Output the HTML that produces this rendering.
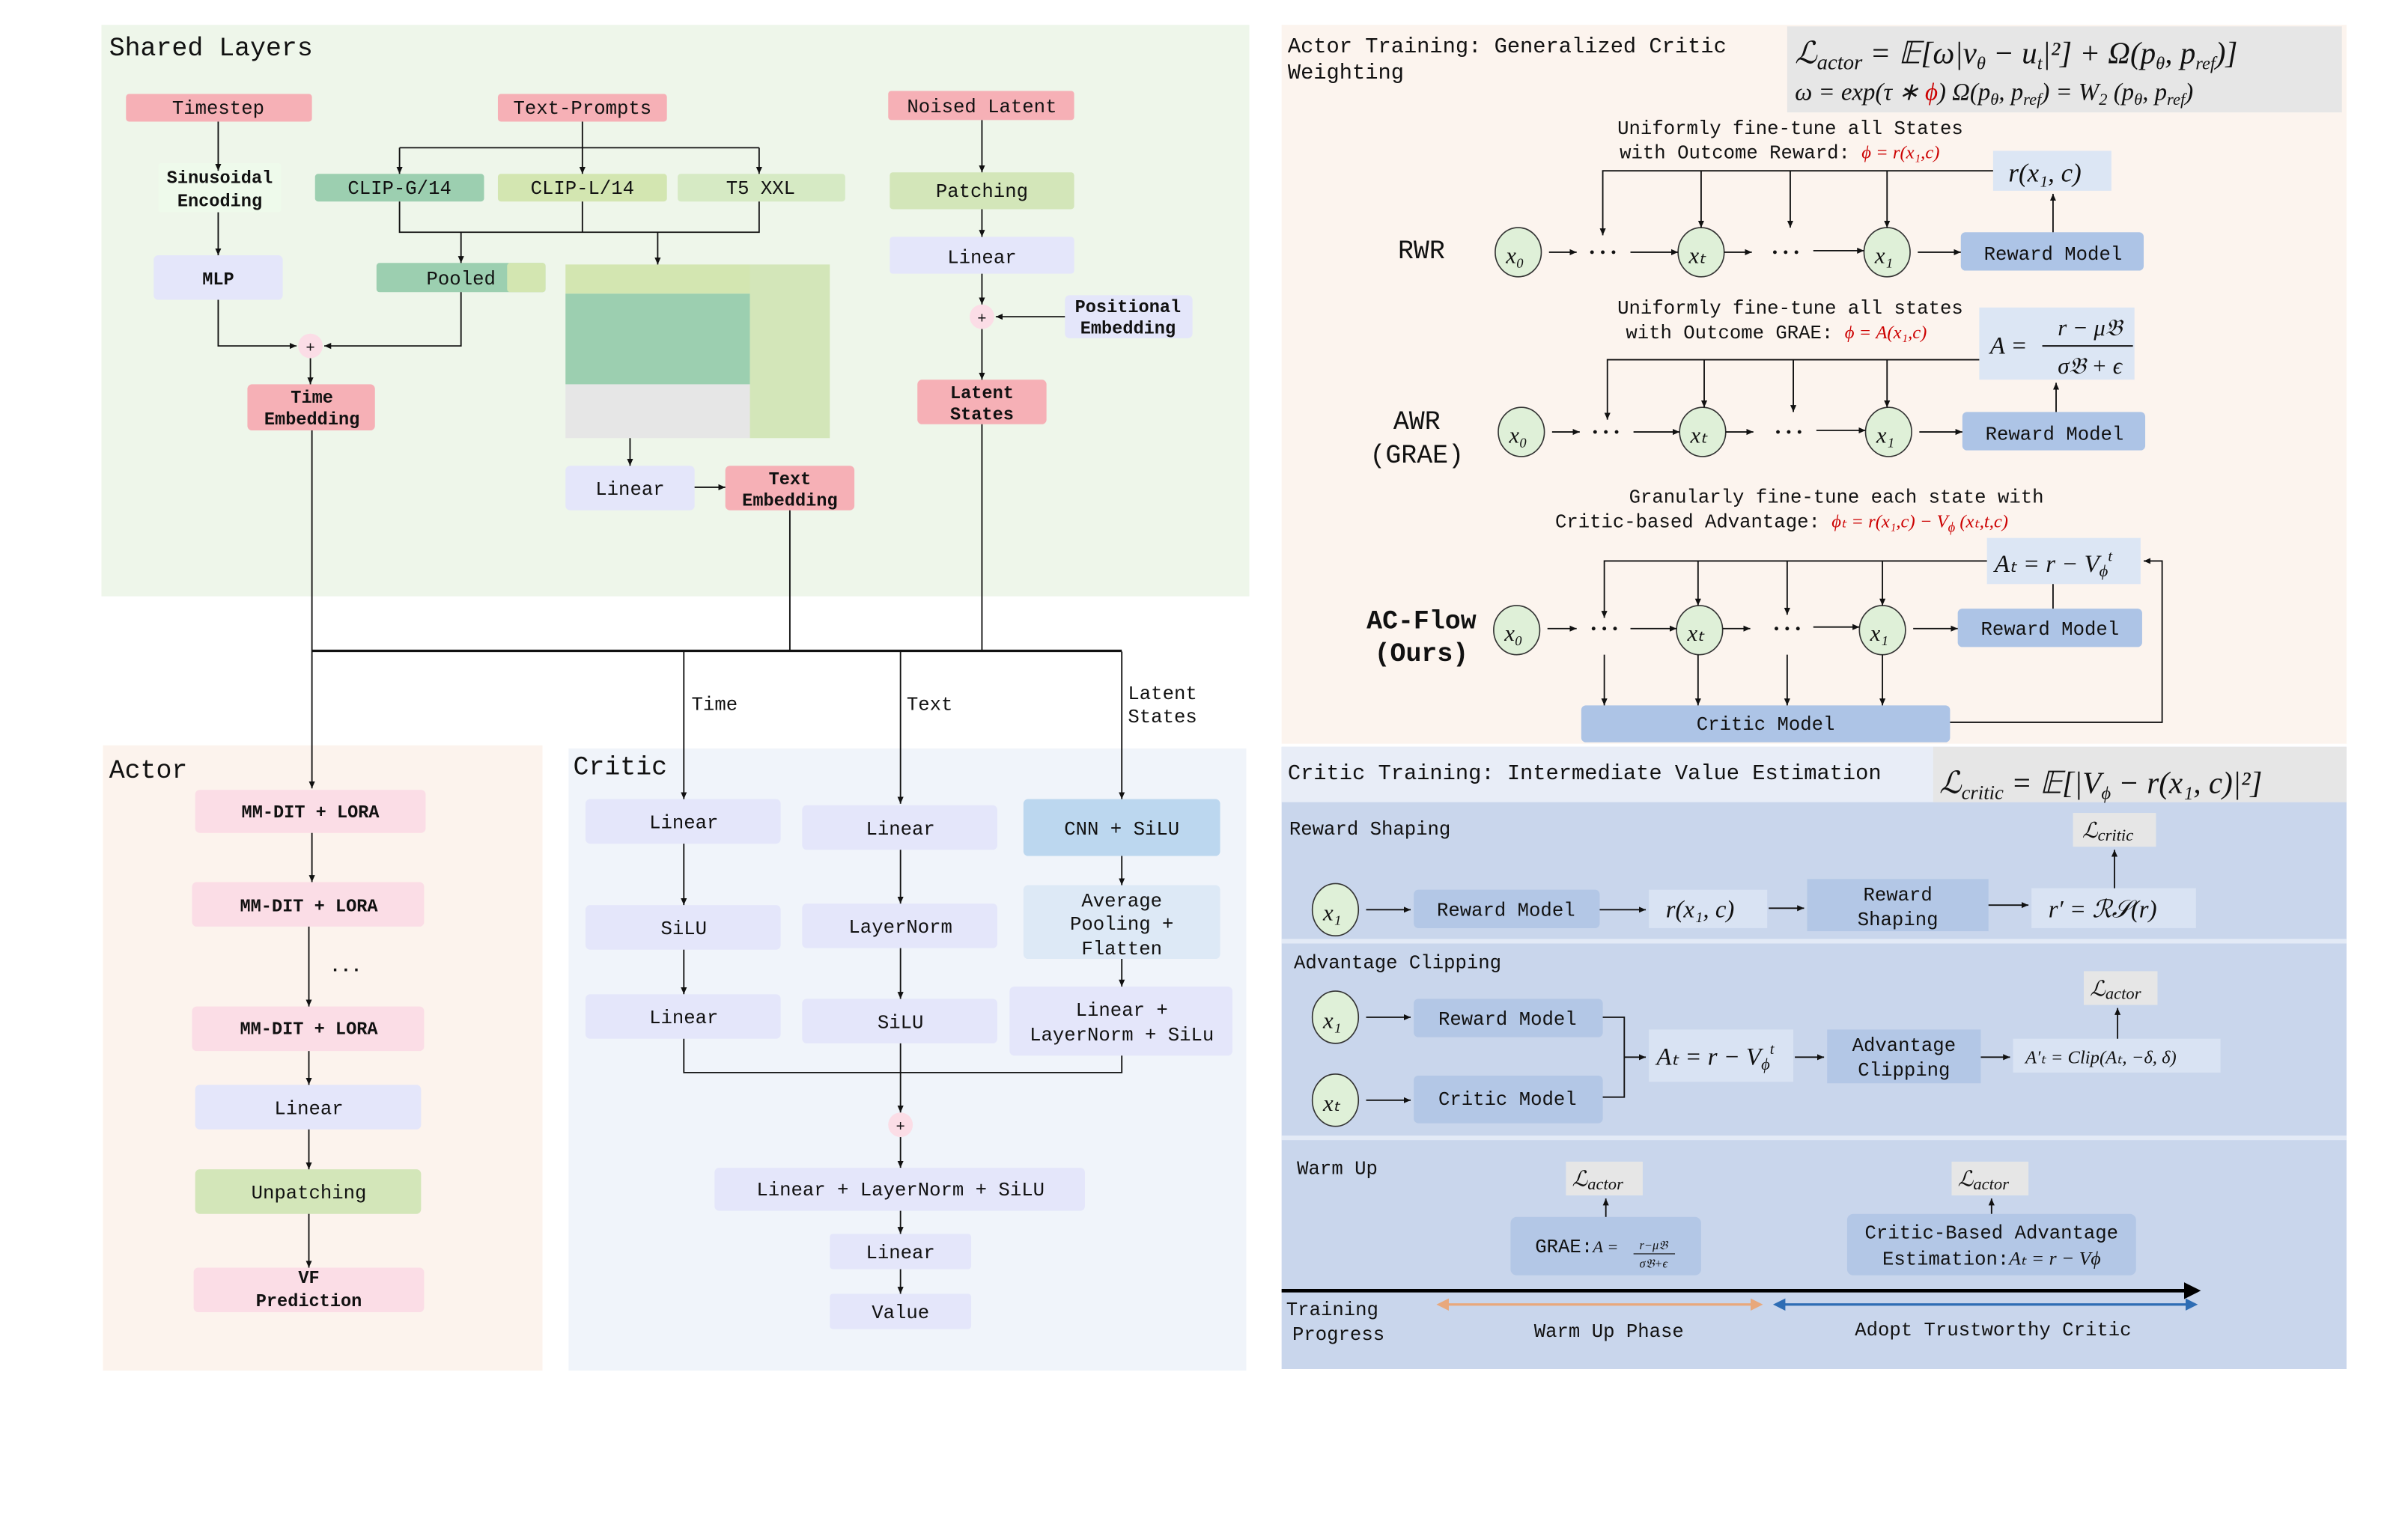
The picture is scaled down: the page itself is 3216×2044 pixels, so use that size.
<!DOCTYPE html>
<html><head><meta charset="utf-8"><style>
html,body{margin:0;padding:0;background:#fff}
svg{display:block}
text{font-family:"Liberation Mono",monospace;fill:#111}
.m{font-family:"Liberation Serif",serif;font-style:italic}
.b{font-weight:bold;font-size:11.5px}
.t{font-size:17px}
</style></head><body>
<svg width="3216" height="2044" viewBox="0 0 1567 995.6" font-size="12.5" xmlns="http://www.w3.org/2000/svg">
<defs><marker id="a" markerWidth="6" markerHeight="6" refX="5" refY="3" orient="auto"><path d="M0,0.8 L5,3 L0,5.2z" fill="#111"/></marker>
<marker id="ao" markerWidth="6" markerHeight="6" refX="3" refY="3" orient="auto-start-reverse"><path d="M0,0.5 L5,3 L0,5.5z" fill="#e8a87c"/></marker>
<marker id="ab" markerWidth="6" markerHeight="6" refX="3" refY="3" orient="auto-start-reverse"><path d="M0,0.5 L5,3 L0,5.5z" fill="#2e6db4"/></marker>
<marker id="ak" markerWidth="5" markerHeight="5" refX="4" refY="2.5" orient="auto"><path d="M0,0 L5,2.5 L0,5z" fill="#000"/></marker></defs>
<g stroke-width="1" fill="none">
<rect x="66" y="16" width="747" height="372" fill="#eef6ea"/>
<rect x="67" y="485" width="286" height="407" fill="#fcf3ed"/>
<rect x="370" y="487" width="441" height="405" fill="#f0f4fa"/>
<rect x="834" y="16" width="693" height="468" fill="#fcf4ee"/>
<rect x="834" y="486" width="693" height="405" fill="#c9d6ec"/>
<rect x="834" y="486" width="693" height="36" fill="#e8edf7"/>
<rect x="1258" y="486" width="269" height="36" fill="#e6e6e6"/>
<rect x="834" y="611" width="693" height="3" fill="#e3eaf6"/>
<rect x="834" y="739" width="693" height="3" fill="#e3eaf6"/>
<rect x="1163" y="17" width="361" height="56" fill="#e6e6e6"/>
</g>
<g stroke="none">
<rect x="82" y="61" width="121" height="18" rx="2" fill="#f6b0b6"/>
<rect x="324" y="61" width="110" height="18" rx="2" fill="#f6b0b6"/>
<rect x="578" y="59" width="121" height="19" rx="2" fill="#f6b0b6"/>
<rect x="103" y="106" width="80" height="32" rx="2" fill="#eefaeb"/>
<rect x="205" y="113" width="110" height="18" rx="2" fill="#9ccfb0"/>
<rect x="324" y="113" width="110" height="18" rx="2" fill="#d3e6b1"/>
<rect x="441" y="113" width="109" height="18" rx="2" fill="#d6eac4"/>
<rect x="579" y="112" width="120" height="24" rx="2" fill="#d3e6b9"/>
<rect x="579" y="154" width="120" height="24" rx="2" fill="#e4e6fa"/>
<rect x="100" y="166" width="84" height="29" rx="3" fill="#e4e6fa"/>
<rect x="245" y="171" width="110" height="19" rx="2" fill="#9ccfb0"/>
<rect x="330" y="171" width="25" height="19" rx="2" fill="#d3e6b1"/>
<rect x="368" y="172" width="120" height="19" fill="#d3e6b1"/>
<rect x="368" y="191" width="120" height="59" fill="#9ccfb0"/>
<rect x="368" y="250" width="120" height="35" fill="#e6e6e6"/>
<rect x="488" y="172" width="52" height="113" fill="#d3e6b9"/>
<circle cx="202" cy="225" r="8" fill="#fbdde6"/>
<circle cx="639" cy="206" r="8" fill="#fbdde6"/>
<rect x="693" y="192" width="83" height="28" rx="3" fill="#e4e6fa"/>
<rect x="161" y="250" width="83" height="30" rx="3" fill="#f6b0b6"/>
<rect x="597" y="247" width="84" height="29" rx="3" fill="#f6b0b6"/>
<rect x="368" y="303" width="84" height="29" rx="3" fill="#e4e6fa"/>
<rect x="472" y="303" width="84" height="29" rx="3" fill="#f6b0b6"/>
<rect x="127" y="514" width="150" height="28" rx="3" fill="#fbdde6"/>
<rect x="125" y="574" width="151" height="29" rx="3" fill="#fbdde6"/>
<rect x="125" y="655" width="151" height="29" rx="3" fill="#fbdde6"/>
<rect x="127" y="706" width="147" height="29" rx="3" fill="#e4e6fa"/>
<rect x="127" y="761" width="147" height="29" rx="3" fill="#d3e6b9"/>
<rect x="126" y="825" width="150" height="29" rx="3" fill="#fbdde6"/>
<rect x="381" y="520" width="127" height="29" rx="3" fill="#e4e6fa"/>
<rect x="381" y="589" width="127" height="29" rx="3" fill="#e4e6fa"/>
<rect x="381" y="647" width="127" height="29" rx="3" fill="#e4e6fa"/>
<rect x="522" y="524" width="127" height="29" rx="3" fill="#e4e6fa"/>
<rect x="522" y="588" width="127" height="29" rx="3" fill="#e4e6fa"/>
<rect x="522" y="650" width="127" height="29" rx="3" fill="#e4e6fa"/>
<rect x="666" y="520" width="128" height="37" rx="3" fill="#bcd7ef"/>
<rect x="666" y="576" width="128" height="48" rx="3" fill="#dde9f6"/>
<rect x="657" y="642" width="145" height="45" rx="3" fill="#e4e6fa"/>
<circle cx="586" cy="732" r="8" fill="#fbdde6"/>
<rect x="465" y="760" width="241" height="28" rx="3" fill="#e4e6fa"/>
<rect x="540" y="803" width="92" height="23" rx="2" fill="#e4e6fa"/>
<rect x="540" y="842" width="92" height="23" rx="2" fill="#e4e6fa"/>
<rect x="1297" y="98" width="77" height="26" fill="#dce6f4"/>
<rect x="1276" y="151" width="119" height="25" rx="3" fill="#adc4e6"/>
<rect x="1288" y="200" width="101" height="47" fill="#dce6f4"/>
<rect x="1277" y="268" width="119" height="25" rx="3" fill="#adc4e6"/>
<rect x="1293" y="350" width="100" height="30" fill="#dce6f4"/>
<rect x="1274" y="396" width="120" height="25" rx="3" fill="#adc4e6"/>
<rect x="1029" y="459" width="240" height="24" rx="3" fill="#adc4e6"/>
<rect x="920" y="579" width="121" height="25" rx="3" fill="#b3c7e6"/>
<rect x="1073" y="579" width="77" height="25" fill="#d9e3f3"/>
<rect x="1176" y="572" width="118" height="34" fill="#b3c7e6"/>
<rect x="1322" y="578" width="107" height="26" fill="#d9e3f3"/>
<rect x="1349" y="529" width="54" height="22" fill="#e6e6e6"/>
<rect x="920" y="650" width="123" height="25" rx="3" fill="#b3c7e6"/>
<rect x="920" y="700" width="123" height="31" rx="3" fill="#b3c7e6"/>
<rect x="1073" y="670" width="94" height="34" fill="#d9e3f3"/>
<rect x="1189" y="670" width="100" height="35" fill="#b3c7e6"/>
<rect x="1310" y="676" width="135" height="22" fill="#d9e3f3"/>
<rect x="1356" y="632" width="48" height="22" fill="#e6e6e6"/>
<rect x="1019" y="756" width="50" height="22" fill="#e6e6e6"/>
<rect x="1270" y="756" width="50" height="22" fill="#e6e6e6"/>
<rect x="983" y="792" width="124" height="38" rx="4" fill="#b3c7e6"/>
<rect x="1202" y="790" width="188" height="40" rx="4" fill="#b3c7e6"/>
</g>
<g fill="#dff0d8" stroke="#333" stroke-width="0.8">
<ellipse cx="988" cy="164" rx="15" ry="16"/><ellipse cx="1107" cy="164" rx="15" ry="16"/><ellipse cx="1228" cy="164" rx="15" ry="16"/>
<ellipse cx="990" cy="281" rx="15" ry="16"/><ellipse cx="1108" cy="281" rx="15" ry="16"/><ellipse cx="1229" cy="281" rx="15" ry="16"/>
<ellipse cx="987" cy="410" rx="15" ry="16"/><ellipse cx="1106" cy="410" rx="15" ry="16"/><ellipse cx="1225" cy="410" rx="15" ry="16"/>
<ellipse cx="869" cy="592" rx="15" ry="17"/><ellipse cx="869" cy="662" rx="15" ry="17"/><ellipse cx="869" cy="716" rx="15" ry="17"/>
</g>
<g stroke="#111" stroke-width="0.9" fill="none">
<path d="M142 79V111" marker-end="url(#a)"/><path d="M142 138V166" marker-end="url(#a)"/>
<path d="M379 79V113" marker-end="url(#a)"/><path d="M260 96H494"/><path d="M260 96V113" marker-end="url(#a)"/><path d="M494 96V113" marker-end="url(#a)"/>
<path d="M260 131V151H494V131M379 131V151"/><path d="M300 151V171" marker-end="url(#a)"/><path d="M428 151V172" marker-end="url(#a)"/>
<path d="M142 195V225H193" marker-end="url(#a)"/><path d="M300 190V225H211" marker-end="url(#a)"/><path d="M202 233V250" marker-end="url(#a)"/>
<path d="M639 78V112" marker-end="url(#a)"/><path d="M639 136V154" marker-end="url(#a)"/><path d="M639 178V198" marker-end="url(#a)"/><path d="M693 206H648" marker-end="url(#a)"/><path d="M639 214V247" marker-end="url(#a)"/>
<path d="M410 285V303" marker-end="url(#a)"/><path d="M452 317H472" marker-end="url(#a)"/>
<path d="M203 280V513" marker-end="url(#a)"/><path d="M514 332V423M639 276V424"/>
<path d="M203 423.5H730" stroke-width="1.6"/><path d="M445 424V520" marker-end="url(#a)"/><path d="M586 424V523" marker-end="url(#a)"/><path d="M730 424V520" marker-end="url(#a)"/>
<path d="M203 542V574" marker-end="url(#a)"/><path d="M201 603V655" marker-end="url(#a)"/><path d="M201 684V706" marker-end="url(#a)"/><path d="M201 735V761" marker-end="url(#a)"/><path d="M201 790V825" marker-end="url(#a)"/>
<path d="M445 549V589" marker-end="url(#a)"/><path d="M445 618V647" marker-end="url(#a)"/><path d="M586 553V588" marker-end="url(#a)"/><path d="M586 617V650" marker-end="url(#a)"/><path d="M730 557V576" marker-end="url(#a)"/><path d="M730 624V642" marker-end="url(#a)"/>
<path d="M445 676V698H730V687M586 679V698"/><path d="M586 698V724" marker-end="url(#a)"/><path d="M586 740V760" marker-end="url(#a)"/><path d="M586 788V803" marker-end="url(#a)"/><path d="M586 826V842" marker-end="url(#a)"/>
<path d="M1297 111H1043V153" marker-end="url(#a)"/><path d="M1107 111V148" marker-end="url(#a)"/><path d="M1165 111V148" marker-end="url(#a)"/><path d="M1228 111V148" marker-end="url(#a)"/>
<path d="M1008 164H1026" marker-end="url(#a)"/><path d="M1061 164H1092" marker-end="url(#a)"/><path d="M1122 164H1140" marker-end="url(#a)"/><path d="M1180 163H1213" marker-end="url(#a)"/><path d="M1248 164H1276" marker-end="url(#a)"/><path d="M1336 151V126" marker-end="url(#a)"/>
<path d="M1288 234H1046V273" marker-end="url(#a)"/><path d="M1109 234V265" marker-end="url(#a)"/><path d="M1167 234V268" marker-end="url(#a)"/><path d="M1228 234V265" marker-end="url(#a)"/>
<path d="M1010 281H1028" marker-end="url(#a)"/><path d="M1063 281H1093" marker-end="url(#a)"/><path d="M1123 281H1141" marker-end="url(#a)"/><path d="M1182 280H1214" marker-end="url(#a)"/><path d="M1249 281H1277" marker-end="url(#a)"/><path d="M1338 268V249" marker-end="url(#a)"/>
<path d="M1293 365H1044V402" marker-end="url(#a)"/><path d="M1105 365V394" marker-end="url(#a)"/><path d="M1163 365V400" marker-end="url(#a)"/><path d="M1225 365V394" marker-end="url(#a)"/><path d="M1336 380V396"/>
<path d="M1007 409H1026" marker-end="url(#a)"/><path d="M1061 409H1091" marker-end="url(#a)"/><path d="M1121 409H1139" marker-end="url(#a)"/><path d="M1180 408H1210" marker-end="url(#a)"/><path d="M1245 409H1274" marker-end="url(#a)"/>
<path d="M1044 426V459" marker-end="url(#a)"/><path d="M1105 426V459" marker-end="url(#a)"/><path d="M1163 426V459" marker-end="url(#a)"/><path d="M1225 426V459" marker-end="url(#a)"/>
<path d="M1269 470H1407V365H1395" marker-end="url(#a)"/>
<path d="M889 592H918" marker-end="url(#a)"/><path d="M1041 592H1071" marker-end="url(#a)"/><path d="M1151 591H1174" marker-end="url(#a)"/><path d="M1294 589H1320" marker-end="url(#a)"/><path d="M1376 578V553" marker-end="url(#a)"/>
<path d="M889 662H918" marker-end="url(#a)"/><path d="M889 716H918" marker-end="url(#a)"/><path d="M1043 662H1057V714H1043M1057 688H1071" marker-end="url(#a)"/><path d="M1168 688H1187" marker-end="url(#a)"/><path d="M1289 688H1308" marker-end="url(#a)"/><path d="M1378 676V656" marker-end="url(#a)"/>
<path d="M1045 792V780" marker-end="url(#a)"/><path d="M1296 790V780" marker-end="url(#a)"/>
</g>
<path d="M834 840H1430" stroke="#000" stroke-width="2.2" marker-end="url(#ak)"/>
<path d="M938 849H1144" stroke="#e8a87c" stroke-width="1.6" marker-start="url(#ao)" marker-end="url(#ao)"/>
<path d="M1157 849H1427" stroke="#2e6db4" stroke-width="1.6" marker-start="url(#ab)" marker-end="url(#ab)"/>
<g text-anchor="middle">
<text x="142" y="74">Timestep</text><text x="379" y="74">Text-Prompts</text><text x="639" y="73">Noised Latent</text>
<text x="143" y="119" class="b">Sinusoidal</text><text x="143" y="134" class="b">Encoding</text>
<text x="260" y="126">CLIP-G/14</text><text x="379" y="126">CLIP-L/14</text><text x="495" y="126">T5 XXL</text>
<text x="639" y="128">Patching</text><text x="639" y="171">Linear</text><text x="142" y="185" class="b">MLP</text><text x="300" y="185">Pooled</text>
<text x="202" y="229" font-size="10">+</text><text x="639" y="210" font-size="10">+</text>
<text x="734" y="203" class="b">Positional</text><text x="734" y="217" class="b">Embedding</text>
<text x="203" y="262" class="b">Time</text><text x="203" y="276" class="b">Embedding</text>
<text x="639" y="259" class="b">Latent</text><text x="639" y="273" class="b">States</text>
<text x="410" y="322">Linear</text><text x="514" y="315" class="b">Text</text><text x="514" y="329" class="b">Embedding</text>
<text x="202" y="532" class="b">MM-DIT + LORA</text><text x="201" y="593" class="b">MM-DIT + LORA</text><text x="225" y="632" class="b">...</text><text x="201" y="673" class="b">MM-DIT + LORA</text>
<text x="201" y="725">Linear</text><text x="201" y="780">Unpatching</text><text x="201" y="835" class="b">VF</text><text x="201" y="850" class="b">Prediction</text>
<text x="445" y="539">Linear</text><text x="445" y="608">SiLU</text><text x="445" y="666">Linear</text>
<text x="586" y="543">Linear</text><text x="586" y="607">LayerNorm</text><text x="586" y="669">SiLU</text>
<text x="730" y="543">CNN + SiLU</text><text x="730" y="590">Average</text><text x="730" y="605">Pooling +</text><text x="730" y="621">Flatten</text>
<text x="730" y="661">Linear +</text><text x="730" y="677">LayerNorm + SiLu</text>
<text x="586" y="736" font-size="10">+</text><text x="586" y="778">Linear + LayerNorm + SiLU</text><text x="586" y="819">Linear</text><text x="586" y="858">Value</text>
<text x="1165" y="87">Uniformly fine-tune all States</text>
<text x="1165" y="204">Uniformly fine-tune all states</text>
<text x="1195" y="327">Granularly fine-tune each state with</text>
<text x="1336" y="169">Reward Model</text><text x="1337" y="286">Reward Model</text><text x="1334" y="413">Reward Model</text><text x="1149" y="475">Critic Model</text>
<text x="980" y="596">Reward Model</text><text x="1235" y="586">Reward</text><text x="1235" y="602">Shaping</text>
<text x="981" y="667">Reward Model</text><text x="981" y="719">Critic Model</text><text x="1239" y="684">Advantage</text><text x="1239" y="700">Clipping</text>
<text x="1296" y="806">Critic-Based Advantage</text>
<text x="1047" y="870">Warm Up Phase</text><text x="1297" y="869">Adopt Trustworthy Critic</text>
<text x="925" y="168" class="t">RWR</text><text x="922" y="279" class="t">AWR</text><text x="922" y="301" class="t">(GRAE)</text>
<text x="925" y="409" class="t" font-weight="bold">AC-Flow</text><text x="925" y="430" class="t" font-weight="bold">(Ours)</text>
</g>
<text x="71" y="36" font-size="17">Shared Layers</text>
<text x="71" y="506" font-size="17">Actor</text><text x="373" y="504" font-size="17">Critic</text>
<text x="450" y="462">Time</text><text x="590" y="462">Text</text><text x="734" y="455">Latent</text><text x="734" y="470">States</text>
<text x="838" y="34" font-size="14">Actor Training: Generalized Critic</text><text x="838" y="51" font-size="14">Weighting</text>
<text x="838" y="507" font-size="14">Critic Training: Intermediate Value Estimation</text>
<text x="839" y="543">Reward Shaping</text><text x="842" y="630">Advantage Clipping</text><text x="844" y="764">Warm Up</text>
<text x="837" y="856">Training</text><text x="841" y="872">Progress</text>
<text x="1054" y="103">with Outcome Reward: <tspan class="m" fill="#c00" font-size="12">ϕ = r(x₁,c)</tspan></text>
<text x="1058" y="220">with Outcome GRAE: <tspan class="m" fill="#c00" font-size="12">ϕ = A(x₁,c)</tspan></text>
<text x="1012" y="343">Critic-based Advantage: <tspan class="m" fill="#c00" font-size="12">ϕₜ = r(x₁,c) − V<tspan font-size="9" dy="3">ϕ</tspan><tspan dy="-3"> (xₜ,t,c)</tspan></tspan></text>
<text x="1296" y="823" text-anchor="middle">Estimation:<tspan class="m">Aₜ = r − Vϕ</tspan></text>
<text x="999" y="815">GRAE:<tspan class="m" font-size="11">A = </tspan></text>
<g class="m">
<text x="1076" y="813" class="m" font-size="8" text-anchor="middle">r−μ𝔅</text><text x="1076" y="825" class="m" font-size="8" text-anchor="middle">σ𝔅+ϵ</text>
<path d="M1063 816H1090" stroke="#111" stroke-width="0.6"/>
<text x="1168" y="41" class="m" font-size="20">ℒ<tspan font-size="14" dy="4">actor</tspan><tspan dy="-4"> = 𝔼[ω|v</tspan><tspan font-size="12" dy="4">θ</tspan><tspan dy="-4"> − u</tspan><tspan font-size="12" dy="4">t</tspan><tspan dy="-4">|²] + Ω(p</tspan><tspan font-size="12" dy="4">θ</tspan><tspan dy="-4">, p</tspan><tspan font-size="12" dy="4">ref</tspan><tspan dy="-4">)]</tspan></text>
<text x="1168" y="65" class="m" font-size="16">ω = exp(τ ∗ <tspan fill="#c00">ϕ</tspan>)   Ω(p<tspan font-size="11" dy="3">θ</tspan><tspan dy="-3">, p</tspan><tspan font-size="11" dy="3">ref</tspan><tspan dy="-3">) = W</tspan><tspan font-size="11" dy="3">2</tspan><tspan dy="-3"> (p</tspan><tspan font-size="11" dy="3">θ</tspan><tspan dy="-3">, p</tspan><tspan font-size="11" dy="3">ref</tspan><tspan dy="-3">)</tspan></text>
<text x="1307" y="118" class="m" font-size="17">r(x₁, c)</text>
<text x="1295" y="230" class="m" font-size="16">A =</text><text x="1360" y="218" class="m" font-size="15" text-anchor="middle">r − μ𝔅</text><text x="1360" y="243" class="m" font-size="15" text-anchor="middle">σ𝔅 + ϵ</text>
<path d="M1329 225H1388" stroke="#111" stroke-width="1"/>
<text x="1298" y="372" class="m" font-size="16">Aₜ = r − V<tspan font-size="11" dy="3">ϕ</tspan><tspan font-size="10" dy="-10">t</tspan></text>
<text x="980" y="171" class="m" font-size="15">x₀</text><text x="1099" y="171" class="m" font-size="15">xₜ</text><text x="1220" y="171" class="m" font-size="15">x₁</text>
<text x="982" y="288" class="m" font-size="15">x₀</text><text x="1100" y="288" class="m" font-size="15">xₜ</text><text x="1221" y="288" class="m" font-size="15">x₁</text>
<text x="979" y="417" class="m" font-size="15">x₀</text><text x="1098" y="417" class="m" font-size="15">xₜ</text><text x="1217" y="417" class="m" font-size="15">x₁</text>
<text x="861" y="599" class="m" font-size="15">x₁</text><text x="861" y="669" class="m" font-size="15">x₁</text><text x="861" y="723" class="m" font-size="15">xₜ</text>
<text x="1262" y="516" class="m" font-size="20">ℒ<tspan font-size="13" dy="4">critic</tspan><tspan dy="-4"> = 𝔼[|V</tspan><tspan font-size="12" dy="4">ϕ</tspan><tspan dy="-4"> − r(x₁, c)|²]</tspan></text>
<text x="1355" y="545" class="m" font-size="14">ℒ<tspan font-size="11" dy="2">critic</tspan></text>
<text x="1360" y="648" class="m" font-size="14">ℒ<tspan font-size="11" dy="2">actor</tspan></text>
<text x="1023" y="772" class="m" font-size="14">ℒ<tspan font-size="11" dy="2">actor</tspan></text>
<text x="1274" y="772" class="m" font-size="14">ℒ<tspan font-size="11" dy="2">actor</tspan></text>
<text x="1084" y="597" class="m" font-size="16">r(x₁, c)</text>
<text x="1333" y="597" class="m" font-size="16">r′ = ℛ𝒮(r)</text>
<text x="1078" y="693" class="m" font-size="16">Aₜ = r − V<tspan font-size="11" dy="3">ϕ</tspan><tspan font-size="10" dy="-10">t</tspan></text>
<text x="1318" y="692" class="m" font-size="12">A′ₜ = Clip(Aₜ, −δ, δ)</text>
</g>
<g fill="#111"><circle cx="1036" cy="164" r="1.2"/><circle cx="1043" cy="164" r="1.2"/><circle cx="1050" cy="164" r="1.2"/>
<circle cx="1155" cy="164" r="1.2"/><circle cx="1162" cy="164" r="1.2"/><circle cx="1169" cy="164" r="1.2"/>
<circle cx="1038" cy="281" r="1.2"/><circle cx="1045" cy="281" r="1.2"/><circle cx="1052" cy="281" r="1.2"/>
<circle cx="1157" cy="281" r="1.2"/><circle cx="1164" cy="281" r="1.2"/><circle cx="1171" cy="281" r="1.2"/>
<circle cx="1037" cy="409" r="1.2"/><circle cx="1044" cy="409" r="1.2"/><circle cx="1051" cy="409" r="1.2"/>
<circle cx="1156" cy="409" r="1.2"/><circle cx="1163" cy="409" r="1.2"/><circle cx="1170" cy="409" r="1.2"/></g>
</svg>
</body></html>
